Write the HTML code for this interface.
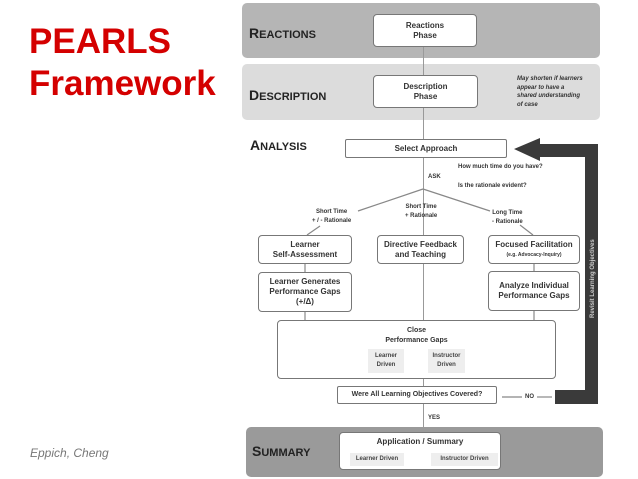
<!DOCTYPE html>
<html><head><meta charset="utf-8"><style>
body{margin:0;width:638px;height:479px;background:#fff;position:relative;overflow:hidden;font-family:"Liberation Sans",sans-serif}
div{position:absolute;box-sizing:border-box}
.b{background:#fff;border:1.3px solid #777;border-radius:4px;text-align:center;font-weight:bold;font-size:8px;color:#333;line-height:10px;display:flex;flex-direction:column;justify-content:center;align-items:center}
.sm{font-size:6px;font-weight:bold;color:#333;text-align:center;line-height:9px}
.h{font-weight:bold;color:#222;font-size:11px}
.h span{font-size:14px}
.l{background:#999}
.s{background:#eee;font-size:6px;font-weight:bold;color:#444;text-align:center;line-height:9px;display:flex;flex-direction:column;justify-content:center}
</style></head><body>
<div style="left:29px;top:21px;font-size:35px;font-weight:bold;color:#d40000;line-height:42px">PEARLS<br>Framework</div>
<div style="left:30px;top:446px;font-size:12px;font-style:italic;color:#777">Eppich, Cheng</div>

<div style="left:242px;top:3px;width:358px;height:55px;background:#b5b5b5;border-radius:5px"></div>
<div style="left:242px;top:64px;width:358px;height:56px;background:#dcdcdc;border-radius:5px"></div>
<div style="left:246px;top:427px;width:357px;height:50px;background:#9a9a9a;border-radius:5px"></div>

<div class="h" style="left:249px;top:25px"><span>R</span>EACTIONS</div>
<div class="h" style="left:249px;top:87px"><span>D</span>ESCRIPTION</div>
<div class="h" style="left:250px;top:137px"><span>A</span>NALYSIS</div>
<div class="h" style="left:252px;top:443px"><span>S</span>UMMARY</div>

<div class="l" style="left:423px;top:47px;width:1.3px;height:381px"></div>
<svg style="position:absolute;left:0;top:0" width="638" height="479"><g stroke="#888" stroke-width="1.2" fill="none">
<line x1="423" y1="189" x2="358" y2="211"/><line x1="307" y1="235" x2="320" y2="226"/>
<line x1="423" y1="189" x2="490" y2="211"/><line x1="520" y1="225" x2="533" y2="235"/>
<line x1="305" y1="264" x2="305" y2="272"/><line x1="534" y1="264" x2="534" y2="271"/>
<line x1="305" y1="312" x2="305" y2="320"/><line x1="534" y1="311" x2="534" y2="320"/>
<line x1="502" y1="397" x2="522" y2="397"/><line x1="537" y1="397" x2="552" y2="397"/>
</g>
<polygon points="514,149 540,138 540,144 598,144 598,404 555,404 555,390 585,390 585,157 540,157 540,161" fill="#3a3a3a"/>
<text x="0" y="0" transform="translate(594,318) rotate(-90)" font-family="Liberation Sans" font-size="6" font-weight="bold" fill="#ccc">Revisit Learning Objectives</text>
</svg>

<div class="b" style="left:373px;top:14px;width:104px;height:33px">Reactions<br>Phase</div>
<div class="b" style="left:373px;top:75px;width:105px;height:33px">Description<br>Phase</div>
<div style="left:517px;top:75px;font-size:6px;font-style:italic;font-weight:bold;color:#333;line-height:8.5px">May shorten if learners<br>appear to have a<br>shared understanding<br>of case</div>
<div class="b" style="left:345px;top:139px;width:162px;height:19px;border-radius:2px">Select Approach</div>
<div class="sm" style="left:458px;top:163px">How much time do you have?</div>
<div class="sm" style="left:428px;top:173px">ASK</div>
<div class="sm" style="left:458px;top:182px">Is the rationale evident?</div>
<div class="sm" style="left:312px;top:208px">Short Time<br>+ / - Rationale</div>
<div class="sm" style="left:405px;top:203px">Short Time<br>+ Rationale</div>
<div class="sm" style="left:492px;top:209px">Long Time<br>- Rationale</div>

<div class="b" style="left:258px;top:235px;width:94px;height:29px">Learner<br>Self-Assessment</div>
<div class="b" style="left:377px;top:235px;width:87px;height:29px">Directive Feedback<br>and Teaching</div>
<div class="b" style="left:488px;top:235px;width:92px;height:29px">Focused Facilitation<span style="font-size:5px">(e.g. Advocacy-Inquiry)</span></div>
<div class="b" style="left:258px;top:272px;width:94px;height:40px">Learner Generates<br>Performance Gaps<br>(+/Δ)</div>
<div class="b" style="left:488px;top:271px;width:92px;height:40px">Analyze Individual<br>Performance Gaps</div>

<div class="b" style="left:277px;top:320px;width:279px;height:59px;justify-content:flex-start;padding-top:5px;font-size:7px">Close<br>Performance Gaps</div>
<div class="s" style="left:368px;top:349px;width:36px;height:24px">Learner<br>Driven</div>
<div class="s" style="left:428px;top:349px;width:37px;height:24px">Instructor<br>Driven</div>

<div class="b" style="left:337px;top:386px;width:160px;height:18px;border-radius:2px;font-size:7px">Were All Learning Objectives Covered?</div>
<div class="sm" style="left:525px;top:393px">NO</div>
<div class="sm" style="left:428px;top:414px">YES</div>

<div class="b" style="left:339px;top:432px;width:162px;height:38px;justify-content:flex-start;padding-top:4px">Application / Summary</div>
<div class="s" style="left:350px;top:453px;width:54px;height:13px">Learner Driven</div>
<div class="s" style="left:431px;top:453px;width:67px;height:13px">Instructor Driven</div>
</body></html>
